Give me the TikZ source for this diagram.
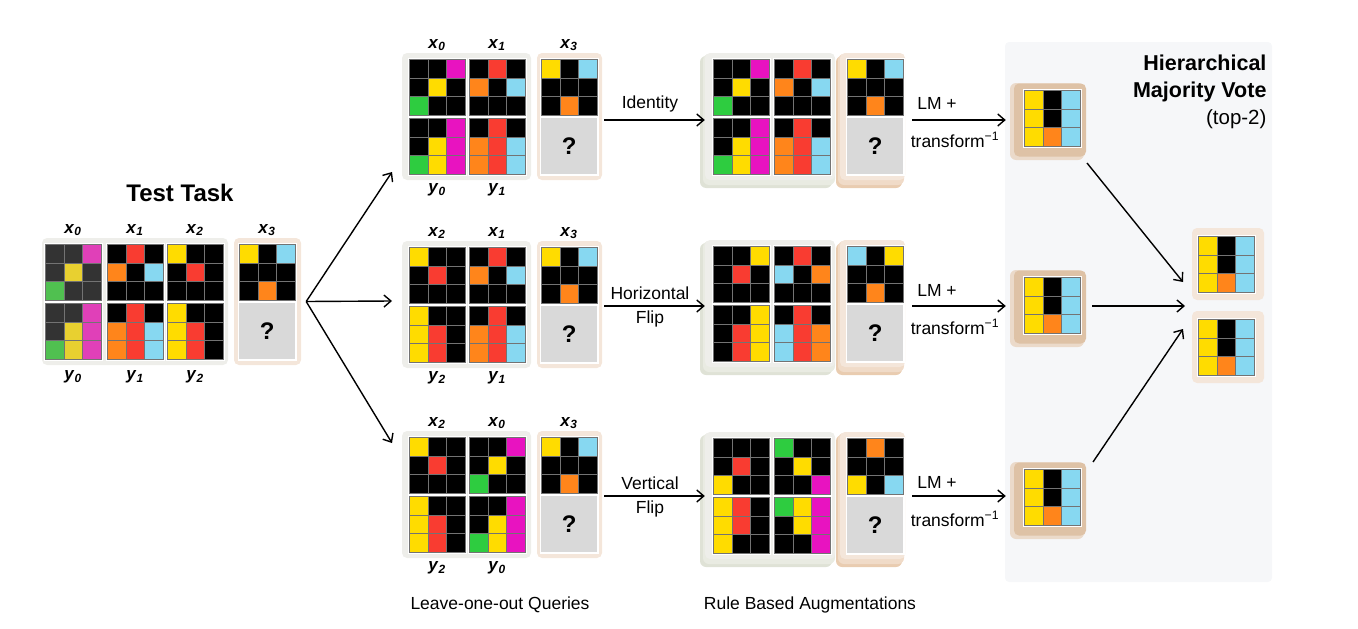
\documentclass[tikz,border=0pt]{standalone}
\usepackage{fontspec}
\setmainfont{Liberation Sans}
\usetikzlibrary{arrows.meta}
\definecolor{cK}{HTML}{000000}
\definecolor{cY}{HTML}{FFDC00}
\definecolor{cR}{HTML}{F93C31}
\definecolor{cO}{HTML}{FF851B}
\definecolor{cC}{HTML}{87D8F1}
\definecolor{cG}{HTML}{2ECC40}
\definecolor{cM}{HTML}{E813C0}
\definecolor{cD}{HTML}{333333}
\definecolor{cE}{HTML}{E8D030}
\definecolor{cN}{HTML}{E040B8}
\definecolor{cH}{HTML}{50C050}
\definecolor{pg}{HTML}{EEEEEA}
\definecolor{pt}{HTML}{F4E6DA}
\definecolor{sg}{HTML}{DFE2D6}
\definecolor{st}{HTML}{E9CCB0}
\definecolor{so}{HTML}{DEC2A6}
\definecolor{qb}{HTML}{D9D9D9}
\definecolor{bgp}{HTML}{F6F7F9}
\newcommand\grid[3]{%
  \fill[white] ({#1-1.5},{#2-1.5}) rectangle +(59.4,59.4);
  \foreach \c [count=\i from 0] in {#3}{%
    \pgfmathtruncatemacro\col{mod(\i,3)}%
    \pgfmathtruncatemacro\row{\i/3}%
    \fill[c\c,draw=black!55,line width=0.3pt] ({#1+\col*18.8},{#2+\row*18.8}) rectangle +(18.8,18.8);}}
\newcommand\qbox[2]{\fill[white] ({#1-1.5},{#2-1.5}) rectangle +(59.4,59.4);
  \fill[qb] (#1,#2) rectangle +(56.4,56.4);
  \node[font=\bfseries\fontsize{24}{24}\selectfont] at ({#1+28.2},{#2+28.2}) {?};}
\newcommand\lab[2]{\textbf{\textit{#1}}\textsubscript{\textbf{\textit{#2}}}}
\begin{document}
\begin{tikzpicture}[x=1pt,y=-1pt,
  pG/.style={fill=pg,rounded corners=5pt,inner sep=0,draw=none},
  pT/.style={fill=pt,rounded corners=5pt,inner sep=0,draw=none},
  arr/.style={-{Straight Barb[length=7pt,width=12pt]},line width=1.4pt},
  lbl/.style={font=\fontsize{17}{17}\selectfont},
  txt/.style={font=\fontsize{17.5}{17.5}\selectfont}]
\useasboundingbox (0,0) rectangle (1358,629);
% right panel
\fill[bgp,rounded corners=4pt] (1005,42) rectangle (1272,582);
\node[anchor=east,font=\bfseries\fontsize{21.5}{27}\selectfont,align=right] at (1270,78) {Hierarchical\\Majority Vote};
\node[anchor=east,font=\fontsize{20.5}{20}\selectfont] at (1270,119) {(top-2)};

% ---------- Test task ----------
\node[font=\bfseries\fontsize{24}{24}\selectfont] at (180,193) {Test Task};
\node[pG,minimum width=186,minimum height=127] (tt) at (135,301.5) {};
\node[pT,minimum width=67,minimum height=127] (tt3) at (267.5,301.5) {};
\grid{45}{244}{D,D,N,D,E,D,H,D,D}
\grid{45}{303}{D,D,N,D,E,N,H,E,N}
\grid{107}{244}{K,R,K,O,K,C,K,K,K}
\grid{107}{303}{K,R,K,O,R,C,O,R,C}
\grid{167}{244}{Y,K,K,K,R,K,K,K,K}
\grid{167}{303}{Y,K,K,Y,R,K,Y,R,K}
\grid{239}{244}{Y,K,C,K,K,K,K,O,K}
\qbox{239}{303}
\node[lbl] at (73,230) {\lab{x}{0}};
\node[lbl] at (135,230) {\lab{x}{1}};
\node[lbl] at (195,230) {\lab{x}{2}};
\node[lbl] at (267,230) {\lab{x}{3}};
\node[lbl] at (73,377) {\lab{y}{0}};
\node[lbl] at (135,377) {\lab{y}{1}};
\node[lbl] at (195,377) {\lab{y}{2}};

% ---------- Leave-one-out ----------
\foreach \r/\dy in {1/0,2/188,3/378}{
  \node[pG,minimum width=129,minimum height=127] (q\r) at (466.5,{116.5+\dy}) {};
  \node[pT,minimum width=65,minimum height=127] (q\r x) at (569.5,{116.5+\dy}) {};
  \grid{541}{59+\dy}{Y,K,C,K,K,K,K,O,K}
  \qbox{541}{118+\dy}
  \node[lbl] at (569,{45+\dy}) {\lab{x}{3}};
}
\grid{409}{59}{K,K,M,K,Y,K,G,K,K}
\grid{409}{118}{K,K,M,K,Y,M,G,Y,M}
\grid{469}{59}{K,R,K,O,K,C,K,K,K}
\grid{469}{118}{K,R,K,O,R,C,O,R,C}
\node[lbl] at (437,45) {\lab{x}{0}}; \node[lbl] at (497,45) {\lab{x}{1}};
\node[lbl] at (437,190) {\lab{y}{0}}; \node[lbl] at (497,190) {\lab{y}{1}};
\grid{409}{247}{Y,K,K,K,R,K,K,K,K}
\grid{409}{306}{Y,K,K,Y,R,K,Y,R,K}
\grid{469}{247}{K,R,K,O,K,C,K,K,K}
\grid{469}{306}{K,R,K,O,R,C,O,R,C}
\node[lbl] at (437,233) {\lab{x}{2}}; \node[lbl] at (497,233) {\lab{x}{1}};
\node[lbl] at (437,378) {\lab{y}{2}}; \node[lbl] at (497,378) {\lab{y}{1}};
\grid{409}{437}{Y,K,K,K,R,K,K,K,K}
\grid{409}{496}{Y,K,K,Y,R,K,Y,R,K}
\grid{469}{437}{K,K,M,K,Y,K,G,K,K}
\grid{469}{496}{K,K,M,K,Y,M,G,Y,M}
\node[lbl] at (437,423) {\lab{x}{2}}; \node[lbl] at (497,423) {\lab{x}{0}};
\node[lbl] at (437,568) {\lab{y}{2}}; \node[lbl] at (497,568) {\lab{y}{0}};

% ---------- Augmentations ----------
\foreach \r/\dy in {1/0,2/187,3/379}{
  \fill[sg,rounded corners=6pt] (700,{56+\dy}) rectangle (832,{188+\dy});
  \fill[sg!70!white,rounded corners=6pt] (703,{54+\dy}) rectangle (835,{185+\dy});
  \node[pG,minimum width=130,minimum height=127] (a\r) at (770,{116.5+\dy}) {};
  \fill[st,rounded corners=6pt] (836,{56+\dy}) rectangle (902,{188+\dy});
  \fill[st!70!white,rounded corners=6pt] (838,{54+\dy}) rectangle (904,{185+\dy});
  \node[pT,minimum width=65,minimum height=127] (a\r x) at (872.5,{116.5+\dy}) {};
  \qbox{847}{118+\dy}
}
\grid{713}{59}{K,K,M,K,Y,K,G,K,K}
\grid{713}{118}{K,K,M,K,Y,M,G,Y,M}
\grid{774}{59}{K,R,K,O,K,C,K,K,K}
\grid{774}{118}{K,R,K,O,R,C,O,R,C}
\grid{847}{59}{Y,K,C,K,K,K,K,O,K}
\grid{713}{246}{K,K,Y,K,R,K,K,K,K}
\grid{713}{305}{K,K,Y,K,R,Y,K,R,Y}
\grid{774}{246}{K,R,K,C,K,O,K,K,K}
\grid{774}{305}{K,R,K,C,R,O,C,R,O}
\grid{847}{246}{C,K,Y,K,K,K,K,O,K}
\grid{713}{438}{K,K,K,K,R,K,Y,K,K}
\grid{713}{497}{Y,R,K,Y,R,K,Y,K,K}
\grid{774}{438}{G,K,K,K,Y,K,K,K,M}
\grid{774}{497}{G,Y,M,K,Y,M,K,K,M}
\grid{847}{438}{K,O,K,K,K,K,Y,K,C}

% ---------- Outputs ----------
\foreach \r/\cy in {1/120,2/307,3/499}{
  \fill[so!60!white,rounded corners=6pt] (1010,{\cy-37}) rectangle (1084,{\cy+40});
  \node[fill=so,rounded corners=5pt,minimum width=72,minimum height=73,inner sep=0] (o\r) at (1050,\cy) {};
  \grid{1024}{\cy-30}{Y,K,C,Y,K,C,Y,O,C}
}
\foreach \r/\cy in {1/264,2/347}{
  \node[fill=pt,rounded corners=5pt,minimum width=72,minimum height=72,inner sep=0] (f\r) at (1228,\cy) {};
  \grid{1198}{\cy-28}{Y,K,C,Y,K,C,Y,O,C}
}
\coordinate (vote) at (1185,306);

% ---------- Arrows ----------
\draw[arr] (tt3.east) ++(5,0) coordinate (s0) -- (392,172);
\draw[arr] (s0) -- (392,301);
\draw[arr] (s0) -- (392,443);
\draw[arr] (q1x.east |- 0,120) ++(2,0) -- (a1.west |- 0,120);
\draw[arr] (q2x.east |- 0,306) ++(2,0) -- (a2.west |- 0,306);
\draw[arr] (q3x.east |- 0,496) ++(2,0) -- (a3.west |- 0,496);
\draw[arr] (a1x.east |- 0,120) ++(7,0) -- ([xshift=-8pt]o1.west);
\draw[arr] (a2x.east |- 0,306) ++(7,0) -- ([xshift=-8pt]o2.west |- 0,306);
\draw[arr] (a3x.east |- 0,496) ++(7,0) -- ([xshift=-8pt]o3.west |- 0,496);
\draw[arr] (1087,163) -- (1183,282);
\draw[arr] (o2.east |- 0,306) ++(6,0) -- (vote);
\draw[arr] (1093,462) -- (1183,329);

\node[txt] at (650,104) {Identity};
\node[txt] at (650,293) {Horizontal};
\node[txt] at (650,319) {Flip};
\node[txt] at (650,483) {Vertical};
\node[txt] at (650,509) {Flip};
\foreach \y in {103,290,482}{
  \node[txt] at (937,\y) {LM +};
  \node[txt] at (955,\y+37) {transform\textsuperscript{−1}};
}
\node[txt] at (500,605) {Leave-one-out Queries};
\node[txt] at (810,605) {Rule Based Augmentations};
\end{tikzpicture}
\end{document}
